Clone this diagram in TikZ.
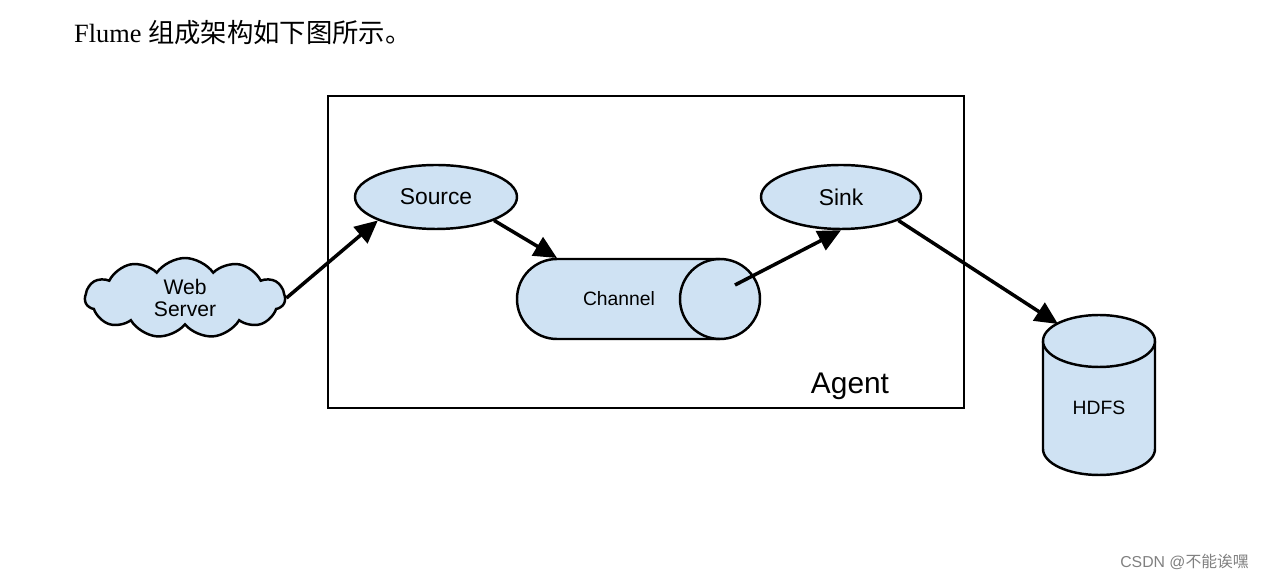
\documentclass[tikz,border=0pt]{standalone}
\usepackage{fontspec}
\setmainfont{Liberation Serif}
\newfontfamily\sans{Liberation Sans}
\newfontfamily\cjk{Noto Sans CJK SC}
\usetikzlibrary{shapes.geometric,shapes.symbols,arrows.meta}
\definecolor{boxblue}{HTML}{CFE2F3}
\begin{document}
\begin{tikzpicture}[x=0.02cm,y=-0.02cm,
  part/.style={draw=black,line width=1.4pt,fill=boxblue,font=\sans\fontsize{13}{15}\selectfont,inner sep=0pt},
  edge/.style={draw=black,line width=1.4pt},
  flow/.style={line width=2pt,-{Triangle[length=13pt,width=12pt]}}]
\useasboundingbox (0,0) rectangle (1269,580);
\node[anchor=west,font=\fontsize{15}{18}\selectfont] (title) at (68,33) {Flume {\cjk 组成架构如下图所示。}};
\node[draw,line width=1.4pt,minimum width=636*0.02cm,minimum height=312*0.02cm] (agent) at (646,252) {};
\node[font=\sans\fontsize{17}{20}\selectfont] (agentlabel) at (850,386) {Agent};
\node[part,ellipse,minimum width=162*0.02cm,minimum height=64*0.02cm] (source) at (436,197) {Source};
\node[part,ellipse,minimum width=160*0.02cm,minimum height=64*0.02cm] (sink) at (841,197) {Sink};
% channel cylinder
\fill[boxblue] (557,259) rectangle (720,339);
\fill[boxblue] (557,299) ellipse (40 and 40);
\draw[edge,fill=boxblue] (720,299) ellipse (40 and 40);
\draw[edge] (720,259) -- (557,259) arc (270:90:40) -- (720,339);
\node[font=\sans\fontsize{11}{13}\selectfont] (channel) at (619,299) {Channel};
% HDFS cylinder
\fill[boxblue] (1043,341) rectangle (1155,449);
\fill[boxblue] (1099,449) ellipse (56 and 26);
\draw[edge] (1043,341) -- (1043,449) arc (180:0:56 and 26) -- (1155,341);
\draw[edge,fill=boxblue] (1099,341) ellipse (56 and 26);
\node[font=\sans\fontsize{11}{13}\selectfont] (hdfs) at (1099,408) {HDFS};
\node[part,cloud,cloud puffs=11,cloud puff arc=110,aspect=2.5,minimum width=200*0.02cm,minimum height=80*0.02cm,align=center,font=\sans\fontsize{12}{13}\selectfont] (web) at (185,298) {Web\\Server};
\coordinate (cin) at (557,258);
\coordinate (cout) at (735,285);
\coordinate (hin) at (1058,324);
\draw[flow] (web.east) -- (source.south west);
\draw[flow] (source.south east) -- (cin);
\draw[flow] (cout) -- (sink.south);
\draw[flow] (sink.south east) -- (hin);
\node[anchor=east,text=gray,font=\sans\fontsize{9}{11}\selectfont] (mark) at (1255,562) {CSDN @{\cjk 不能诶嘿}};
\end{tikzpicture}
\end{document}
